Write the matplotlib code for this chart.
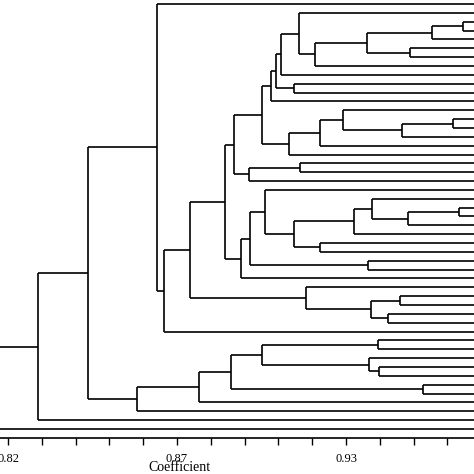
import matplotlib
matplotlib.use("Agg")
import matplotlib.pyplot as plt

L = "leaf"
# merge coefficients, nested as (coefficient, upper child, lower child)
n299 = (0.9113, L, (0.9167, (0.9338, (0.9554, (0.9657, L, L), L), (0.9481, L, L)), L))
n281 = (0.9054, n299, L)
n276 = (0.9037, n281, (0.9097, L, L))
n271 = (0.9021, n276, L)
n289 = (0.9080, (0.9183, (0.9259, L, (0.9454, (0.9623, L, L), L)), L), L)
n262 = (0.8991, n271, n289)
n249 = (0.8948, (0.9117, L, L), L)
n234 = (0.8898, n262, n249)
n265 = (0.9001, L, (0.9097, (0.9295, (0.9355, L, (0.9477, (0.9646, L, L), L)), L), (0.9183, L, L)))
n250 = (0.8951, n265, (0.9342, L, L))
n241 = (0.8921, n250, L)
n225 = (0.8868, n234, n241)
n306 = (0.9136, L, (0.9352, (0.9448, L, L), (0.9408, L, L)))
n190 = (0.8752, n225, n306)
n164 = (0.8666, n190, L)
n157 = (0.8643, L, n164)
low262 = (0.8991, (0.9375, L, L), (0.9345, L, (0.9381, L, L)))
n231 = (0.8888, low262, (0.9524, L, L))
n199 = (0.8782, n231, L)
n137 = (0.8577, n199, L)
n88 = (0.8415, n157, n137)
n38 = (0.8249, n88, L)
root = (0.8074, n38, L)

leaf_end = 1.0
tick_start = 0.815
tick_step = 0.0112
tick_labels = {0: "0.82", 5: "0.87", 10: "0.93"}

plt.rcParams["font.family"] = ["Liberation Serif", "DejaVu Serif"]
plt.rcParams["savefig.bbox"] = None
fig = plt.figure(figsize=(4.74, 4.74), dpi=100)
ax = fig.add_axes([0, 36 / 474, 1, 438 / 474])

counter = [0]
lw = 1.2


def draw(node):
    """Draw node, return (y, x) of the point where its parent line attaches."""
    if node == L:
        y = -counter[0]
        counter[0] += 1
        return y, leaf_end
    h, a, b = node
    ya, xa = draw(a)
    yb, xb = draw(b)
    ax.plot([h, xa], [ya, ya], color="black", lw=lw, solid_capstyle="butt")
    ax.plot([h, xb], [yb, yb], color="black", lw=lw, solid_capstyle="butt")
    ax.plot([h, h], [ya, yb], color="black", lw=lw, solid_capstyle="butt")
    return (ya + yb) / 2, h


ry, rx = draw(root)
ax.plot([rx - 0.01, rx], [ry, ry], color="black", lw=lw)

px = tick_step / 33.8
ax.set_xlim(tick_start - 8 * px, tick_start + 466 * px)
sp = 8.854
ax.set_ylim(-434 / sp, 4 / sp)

ticks = [tick_start + k * tick_step for k in range(14)]
ax.set_xticks(ticks)
ax.set_xticklabels([tick_labels.get(k, "") for k in range(14)], fontsize=9)
ax.tick_params(axis="x", direction="out", length=5, width=1, pad=6)
ax.set_yticks([])
for s in ["top", "left", "right"]:
    ax.spines[s].set_visible(False)
ax.spines["bottom"].set_linewidth(1.2)

fig.text(179 / 474, 0.0, "Coefficient", ha="center", va="bottom", fontsize=10)
fig.savefig("out.png", dpi=100, bbox_inches=None)
